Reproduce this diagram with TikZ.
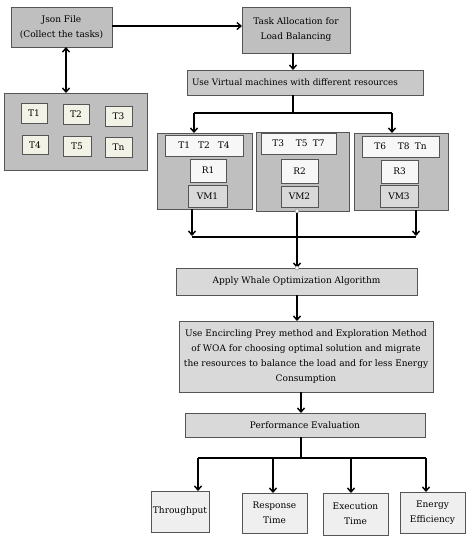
\documentclass[tikz,border=0pt]{standalone}
\usepackage{fontspec}
\setmainfont{DejaVu Serif}
\usetikzlibrary{arrows.meta,shadows}
\definecolor{gmain}{HTML}{BFBFBF}
\definecolor{gmid}{HTML}{D4D4D4}
\definecolor{gvm}{HTML}{D9D9D9}
\definecolor{cream}{HTML}{F2F2E6}
\definecolor{wbox}{HTML}{F7F7F7}
\definecolor{lbox}{HTML}{EFEFEF}
\definecolor{edge}{HTML}{555555}
\tikzset{
  box/.style={draw=edge, line width=0.8pt, outer sep=0pt, inner sep=2pt, align=center,
    font=\fontsize{9}{15}\selectfont,
    drop shadow={shadow xshift=0.8pt, shadow yshift=-0.8pt, fill=black!55, opacity=0.8}},
  gbox/.style={box, fill=gmain},
  mbox/.style={box, fill=gmid},
  vmbox/.style={box, fill=gvm},
  tbox/.style={box, fill=cream},
  wtbox/.style={box, fill=wbox},
  lbbox/.style={box, fill=lbox},
  conn/.style={line width=1.6pt, -{Straight Barb[length=4pt,width=7pt,line width=1.4pt]}},
  plain/.style={line width=1.6pt},
  handle/.style={circle, draw=black!50, fill=white, inner sep=0pt, minimum size=4pt}
}
\begin{document}
\begin{tikzpicture}[x=1pt,y=-1pt]
\useasboundingbox (0,0) rectangle (474,539);
% top row
\node[gbox, minimum width=101pt, minimum height=40pt] (json) at (61.5,27) {Json File\\(Collect the tasks)};
\node[gbox, minimum width=108pt, minimum height=46pt] (task) at (296,30) {Task Allocation for\\Load Balancing};
% tasks pool
\node[gbox, minimum width=143pt, minimum height=77pt] (pool) at (75.5,131.5) {};
\node[tbox, minimum width=26pt, minimum height=20pt] (t1) at (34,113) {T1};
\node[tbox, minimum width=26pt, minimum height=20pt] (t2) at (76,114) {T2};
\node[tbox, minimum width=27pt, minimum height=20pt] (t3) at (118.5,116) {T3};
\node[tbox, minimum width=26pt, minimum height=19pt] (t4) at (35,145) {T4};
\node[tbox, minimum width=28pt, minimum height=20pt] (t5) at (77,146) {T5};
\node[tbox, minimum width=27pt, minimum height=20pt] (tn) at (118.5,147) {Tn};
% virtual machines
\node[gbox, minimum width=236pt, minimum height=25pt, fill=gmain!85!white, font=\fontsize{8.8}{14}\selectfont] (vmuse) at (305,82.5) {\makebox[226pt][l]{Use Virtual machines with different resources}};
% VM groups
\node[gbox, minimum width=95pt, minimum height=76pt] (g1) at (204.5,171) {};
\node[gbox, minimum width=93pt, minimum height=79pt] (g2) at (302.5,171.5) {};
\node[gbox, minimum width=94pt, minimum height=77pt] (g3) at (401,171.5) {};
\node[wtbox, minimum width=78pt, minimum height=21pt] (r1t) at (204,145.5) {T1\hspace{0.9em}T2\hspace{0.9em}T4};
\node[wtbox, minimum width=36pt, minimum height=23pt] (r1) at (208,170.5) {R1};
\node[wtbox, minimum width=75pt, minimum height=21pt] (r2t) at (298.5,143.5) {T3\hspace{1.3em}T5\hspace{0.6em}T7};
\node[vmbox, minimum width=39pt, minimum height=22pt] (vm1) at (207.5,196) {VM1};
\node[wtbox, minimum width=37pt, minimum height=24pt] (r2) at (299.5,171) {R2};
\node[vmbox, minimum width=37pt, minimum height=21pt] (vm2) at (299.5,196.5) {VM2};
\node[wtbox, minimum width=77pt, minimum height=21pt] (r3t) at (400.5,146.5) {T6\hspace{1.3em}T8\hspace{0.6em}Tn};
\node[wtbox, minimum width=37pt, minimum height=23pt] (r3) at (399.5,171.5) {R3};
\node[vmbox, minimum width=38pt, minimum height=22pt] (vm3) at (399,196) {VM3};
% WOA
\node[mbox, minimum width=241pt, minimum height=27pt, fill=gvm] (apply) at (296.5,281.5) {Apply Whale Optimization Algorithm};
\node[mbox, minimum width=254pt, minimum height=71pt, fill=gvm] (enc) at (306,356.5) {Use Encircling Prey method and Exploration Method\\of WOA for choosing optimal solution and migrate\\the resources to balance the load and for less Energy\\Consumption};
\node[mbox, minimum width=240pt, minimum height=24pt, fill=gvm] (perf) at (305,425) {Performance Evaluation};
% results
\node[lbbox, minimum width=54pt, minimum height=41pt] (thr) at (180,511.5) {Throughput};
\node[lbbox, minimum width=65pt, minimum height=40pt] (resp) at (274.5,513) {Response\\Time};
\node[lbbox, minimum width=65pt, minimum height=42pt] (exe) at (355.5,514) {Execution\\Time};
\node[lbbox, minimum width=65pt, minimum height=41pt] (ene) at (432.5,512.5) {Energy\\Efficiency};
% junction coordinates
\coordinate (j1) at (293,113);
\coordinate (j1l) at (194,113);
\coordinate (j1r) at (392,113);
\coordinate (j2l) at (192,237);
\coordinate (j2r) at (416,237);
\coordinate (j3) at (301,458);
\coordinate (j3a) at (198,458);
\coordinate (j3b) at (273,458);
\coordinate (j3c) at (351,458);
\coordinate (j3d) at (426,458);
% connectors
\draw[conn] (json.east |- 0,26) -- (task.west |- 0,26);
\draw[line width=1.6pt, {Straight Barb[length=4pt,width=7pt,line width=1.4pt]}-{Straight Barb[length=4pt,width=7pt,line width=1.4pt]}] (json.south -| 66,0) -- (pool.north -| 66,0);
\draw[conn] (task.south -| 293,0) -- (vmuse.north -| 293,0);
\draw[plain] (vmuse.south -| j1) -- (j1);
\draw[plain] (j1l) -- (j1r);
\draw[conn] (j1l) -- (g1.north -| j1l);
\draw[conn] (j1r) -- (g3.north -| j1r);
\draw[conn] (g1.south -| j2l) -- ([yshift=1pt]j2l);
\draw[conn] (g3.south -| j2r) -- ([yshift=1pt]j2r);
\draw[plain] (j2l) -- (j2r);
\draw[conn] (g2.south -| 297,0) -- (apply.north -| 297,0);
\node[handle] (h1) at (g2.south -| 297,0) {};
\node[handle] (h2) at (apply.north -| 297,0) {};
\draw[conn] (apply.south -| 297,0) -- (enc.north -| 297,0);
\draw[conn] (enc.south -| 301,0) -- (perf.north -| 301,0);
\draw[plain] (perf.south -| j3) -- (j3);
\draw[plain] (j3a) -- (j3d);
\draw[conn] (j3a) -- (thr.north -| j3a);
\draw[conn] (j3b) -- (resp.north -| j3b);
\draw[conn] (j3c) -- (exe.north -| j3c);
\draw[conn] (j3d) -- (ene.north -| j3d);
\end{tikzpicture}
\end{document}
